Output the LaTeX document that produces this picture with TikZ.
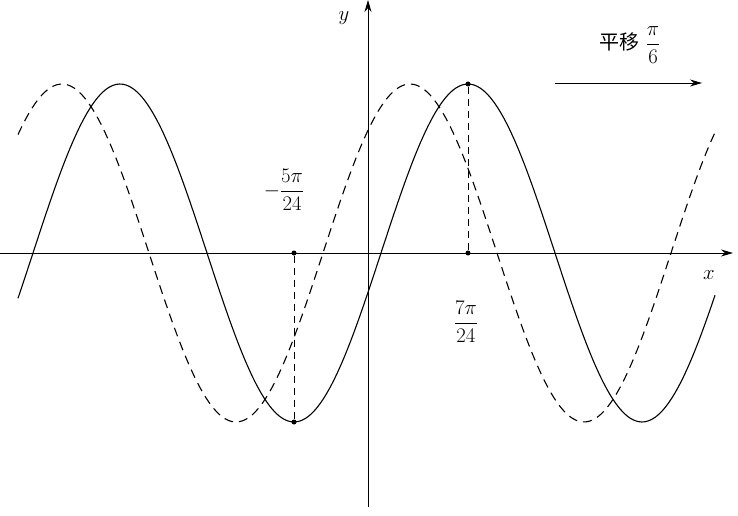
\documentclass[tikz,border=0pt]{standalone}
\usepackage{amsmath}
\usepackage{fontspec}
\newfontfamily\cjk{Noto Sans CJK SC}
\usetikzlibrary{arrows.meta}
\begin{document}
\begin{tikzpicture}[x=1pt,y=-1pt,
  axis/.style={line width=0.9pt,-{Stealth[length=12pt,width=7pt]}},
  curve/.style={line width=1.1pt,smooth,samples=200},
  dot/.style={circle,fill,inner sep=0pt,minimum size=5pt},
  lbl/.style={font=\fontsize{20}{24}\selectfont}]
\useasboundingbox (0,0) rectangle (738,516);
\coordinate (xs) at (0,253); \coordinate (xe) at (733,253);
\coordinate (ys) at (368,507); \coordinate (ye) at (368,0);
\draw[axis] (xs) -- (xe);
\draw[axis] (ys) -- (ye);
\node[lbl] (ylab) at (344,18) {$y$};
\node[lbl] (xlab) at (709,275) {$x$};
\draw[curve] plot[domain=18:715] (\x,{253-169*cos(1.034483*(\x-468))});
\draw[curve,dashed,dash pattern=on 9pt off 6pt] plot[domain=18:715] (\x,{253-169*cos(1.034483*(\x-410))});
\node[dot] (a1) at (294,253) {};
\node[dot] (a2) at (294,422) {};
\node[dot] (b1) at (468,84) {};
\node[dot] (b2) at (468,253) {};
\draw[line width=0.9pt,dashed,dash pattern=on 7pt off 5pt] (a1) -- (a2);
\draw[line width=0.9pt,dashed,dash pattern=on 7pt off 5pt] (b1) -- (b2);
\node[lbl] (l1) at (284,190) {$-\dfrac{5\pi}{24}$};
\node[lbl] (l2) at (466,322) {$\dfrac{7\pi}{24}$};
\node[lbl] (sh) at (630,45) {{\cjk 平移} $\dfrac{\pi}{6}$};
\coordinate (as) at (555,83); \coordinate (ae) at (702,83);
\draw[axis] (as) -- (ae);
\end{tikzpicture}
\end{document}
